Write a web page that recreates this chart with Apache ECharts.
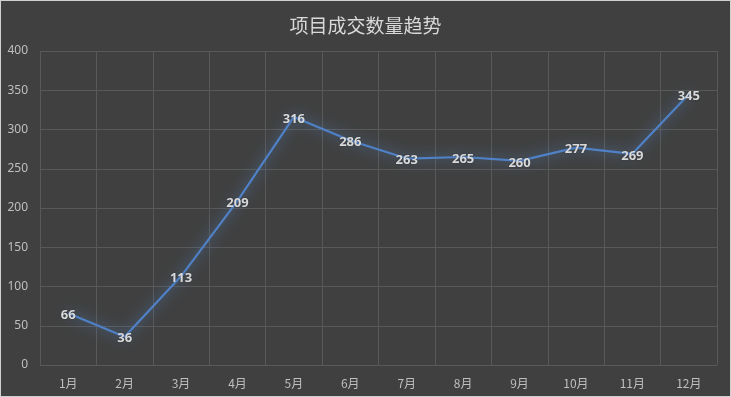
<!DOCTYPE html>
<html>
<head>
<meta charset="utf-8">
<script src="https://cdn.jsdelivr.net/npm/echarts@6/dist/echarts.min.js"></script>
<style>
  html, body { margin: 0; padding: 0; background: #ffffff; }
  #chart { width: 729px; height: 395px; border: 1px solid #d0d0d0; background: #404040; }
</style>
</head>
<body>
<div id="chart"></div>
<script>
const months = ["1月", "2月", "3月", "4月", "5月", "6月", "7月", "8月", "9月", "10月", "11月", "12月"];
const dealCounts = [66, 36, 113, 209, 316, 286, 263, 265, 260, 277, 269, 345];

const chart = echarts.init(document.getElementById("chart"));

chart.setOption({
  backgroundColor: "#404040",
  animation: false,
  title: {
    text: "项目成交数量趋势",
    left: "center",
    top: 10,
    textStyle: {
      color: "#d9d9d9",
      fontSize: 19,
      fontWeight: "normal",
      fontFamily: "Noto Sans CJK SC"
    }
  },
  grid: { left: 39, right: 13, top: 50, bottom: 31 },
  xAxis: {
    type: "category",
    data: months,
    boundaryGap: true,
    axisLine: { show: false },
    axisTick: { show: false },
    axisLabel: { color: "#bfbfbf", fontSize: 12, margin: 12, fontFamily: "Noto Sans CJK SC" },
    splitLine: { show: true, interval: 0, lineStyle: { color: "#595959", width: 1 } }
  },
  yAxis: {
    type: "value",
    min: 0,
    max: 400,
    interval: 50,
    axisLine: { show: false },
    axisTick: { show: false },
    axisLabel: { color: "#bfbfbf", fontSize: 12, margin: 12, fontFamily: "Noto Sans" },
    splitLine: { lineStyle: { color: "#595959", width: 1 } }
  },
  series: [{
    type: "line",
    data: dealCounts,
    symbol: "circle",
    symbolSize: 1,
    showSymbol: true,
    itemStyle: { color: "rgba(0,0,0,0)" },
    lineStyle: {
      color: "#4f81c6",
      width: 2.2,
      shadowColor: "rgba(90,150,230,0.85)",
      shadowBlur: 13
    },
    label: {
      show: true,
      position: "inside",
      offset: [0, 2],
      color: "#d9d9d9",
      fontSize: 13,
      fontWeight: "bold",
      fontFamily: "Noto Sans",
      textShadowColor: "rgba(0,0,0,0.3)",
      textShadowBlur: 2
    }
  }]
});
</script>
</body>
</html>
